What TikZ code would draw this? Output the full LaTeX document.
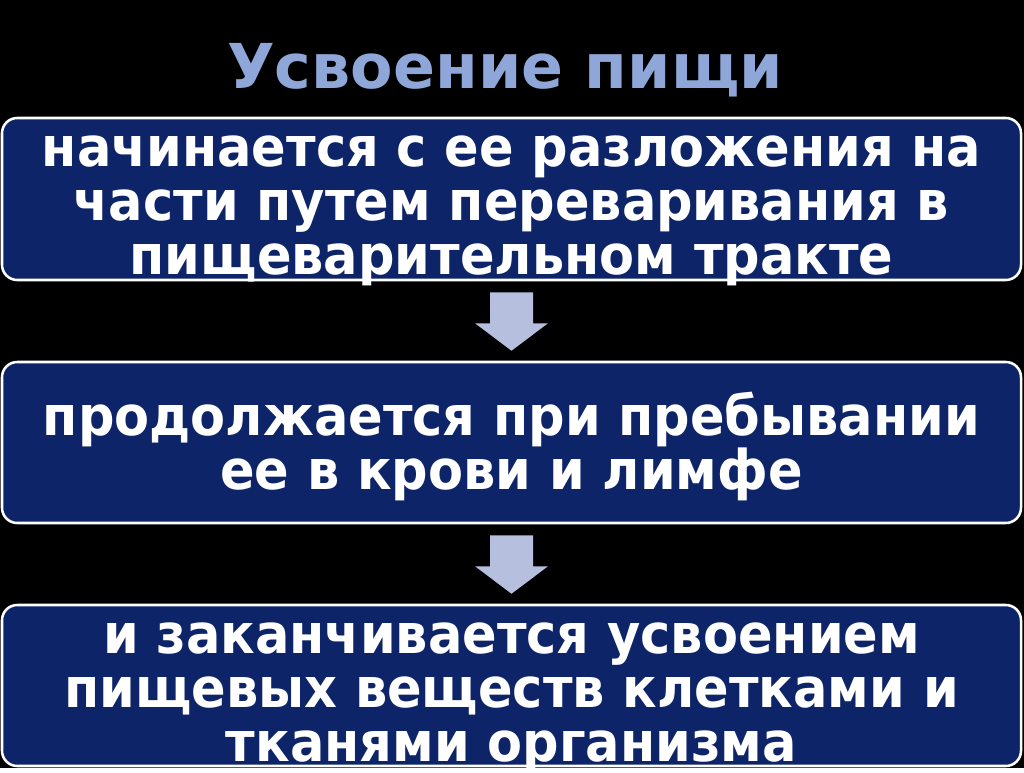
\documentclass[tikz,border=0pt]{standalone}
\usepackage{fontspec}
\setmainfont{DejaVu Sans}
\newfontfamily\stagefont{DejaVu Sans}[FakeStretch=0.93]
\usetikzlibrary{calc}
\definecolor{boxblue}{RGB}{14,36,104}
\definecolor{titleblue}{RGB}{142,166,216}
\definecolor{arrowgray}{RGB}{182,192,222}
\begin{document}
\begin{tikzpicture}[x=0.025cm,y=-0.025cm,
    stagebox/.style={draw=white,line width=1.8pt,fill=boxblue,rounded corners=0.38cm,
        minimum width=1019*0.025cm,inner sep=0pt},
    stagetext/.style={align=center,text=white,inner sep=0pt,
        font=\stagefont\fontsize{39}{38.5}\selectfont\bfseries},
    downarrow/.style={fill=arrowgray}]
    % background
    \fill[black] (0,0) rectangle (1024,768);
    \node[text=titleblue,font=\fontsize{44}{44}\selectfont\bfseries] (title) at (505,70) {Усвоение пищи};
    \node[stagebox,minimum height=162*0.025cm] (b1) at (511.5,199) {};
    \node[stagebox,minimum height=161*0.025cm] (b2) at (511.5,442.5) {};
    \node[stagebox,minimum height=161*0.025cm] (b3) at (511.5,685.5) {};
    \node[stagetext] (t1) at ($(b1.center)+(0,12)$) {начинается с ее разложения на\\ части путем переваривания в\\ пищеварительном тракте};
    \node[stagetext] (t2) at ($(b2.center)+(0,4)$) {продолжается при пребывании\\ ее в крови и лимфе};
    \node[stagetext] (t3) at ($(b3.center)+(0,12)$) {и заканчивается усвоением\\ пищевых веществ клетками и\\ тканями организма};
    % arrows between the stages
    \foreach \a/\b in {b1/b2,b2/b3}
        \fill[downarrow] ($(\a.south)+(-21.5,11)$) -- ($(\a.south)+(21.5,11)$) -- ($(\a.south)+(21.5,42)$)
            -- ($(\a.south)+(36.5,42)$) -- ($(\b.north)+(0,-10)$) -- ($(\a.south)+(-36.5,42)$)
            -- ($(\a.south)+(-21.5,42)$) -- cycle;
\end{tikzpicture}
\end{document}
